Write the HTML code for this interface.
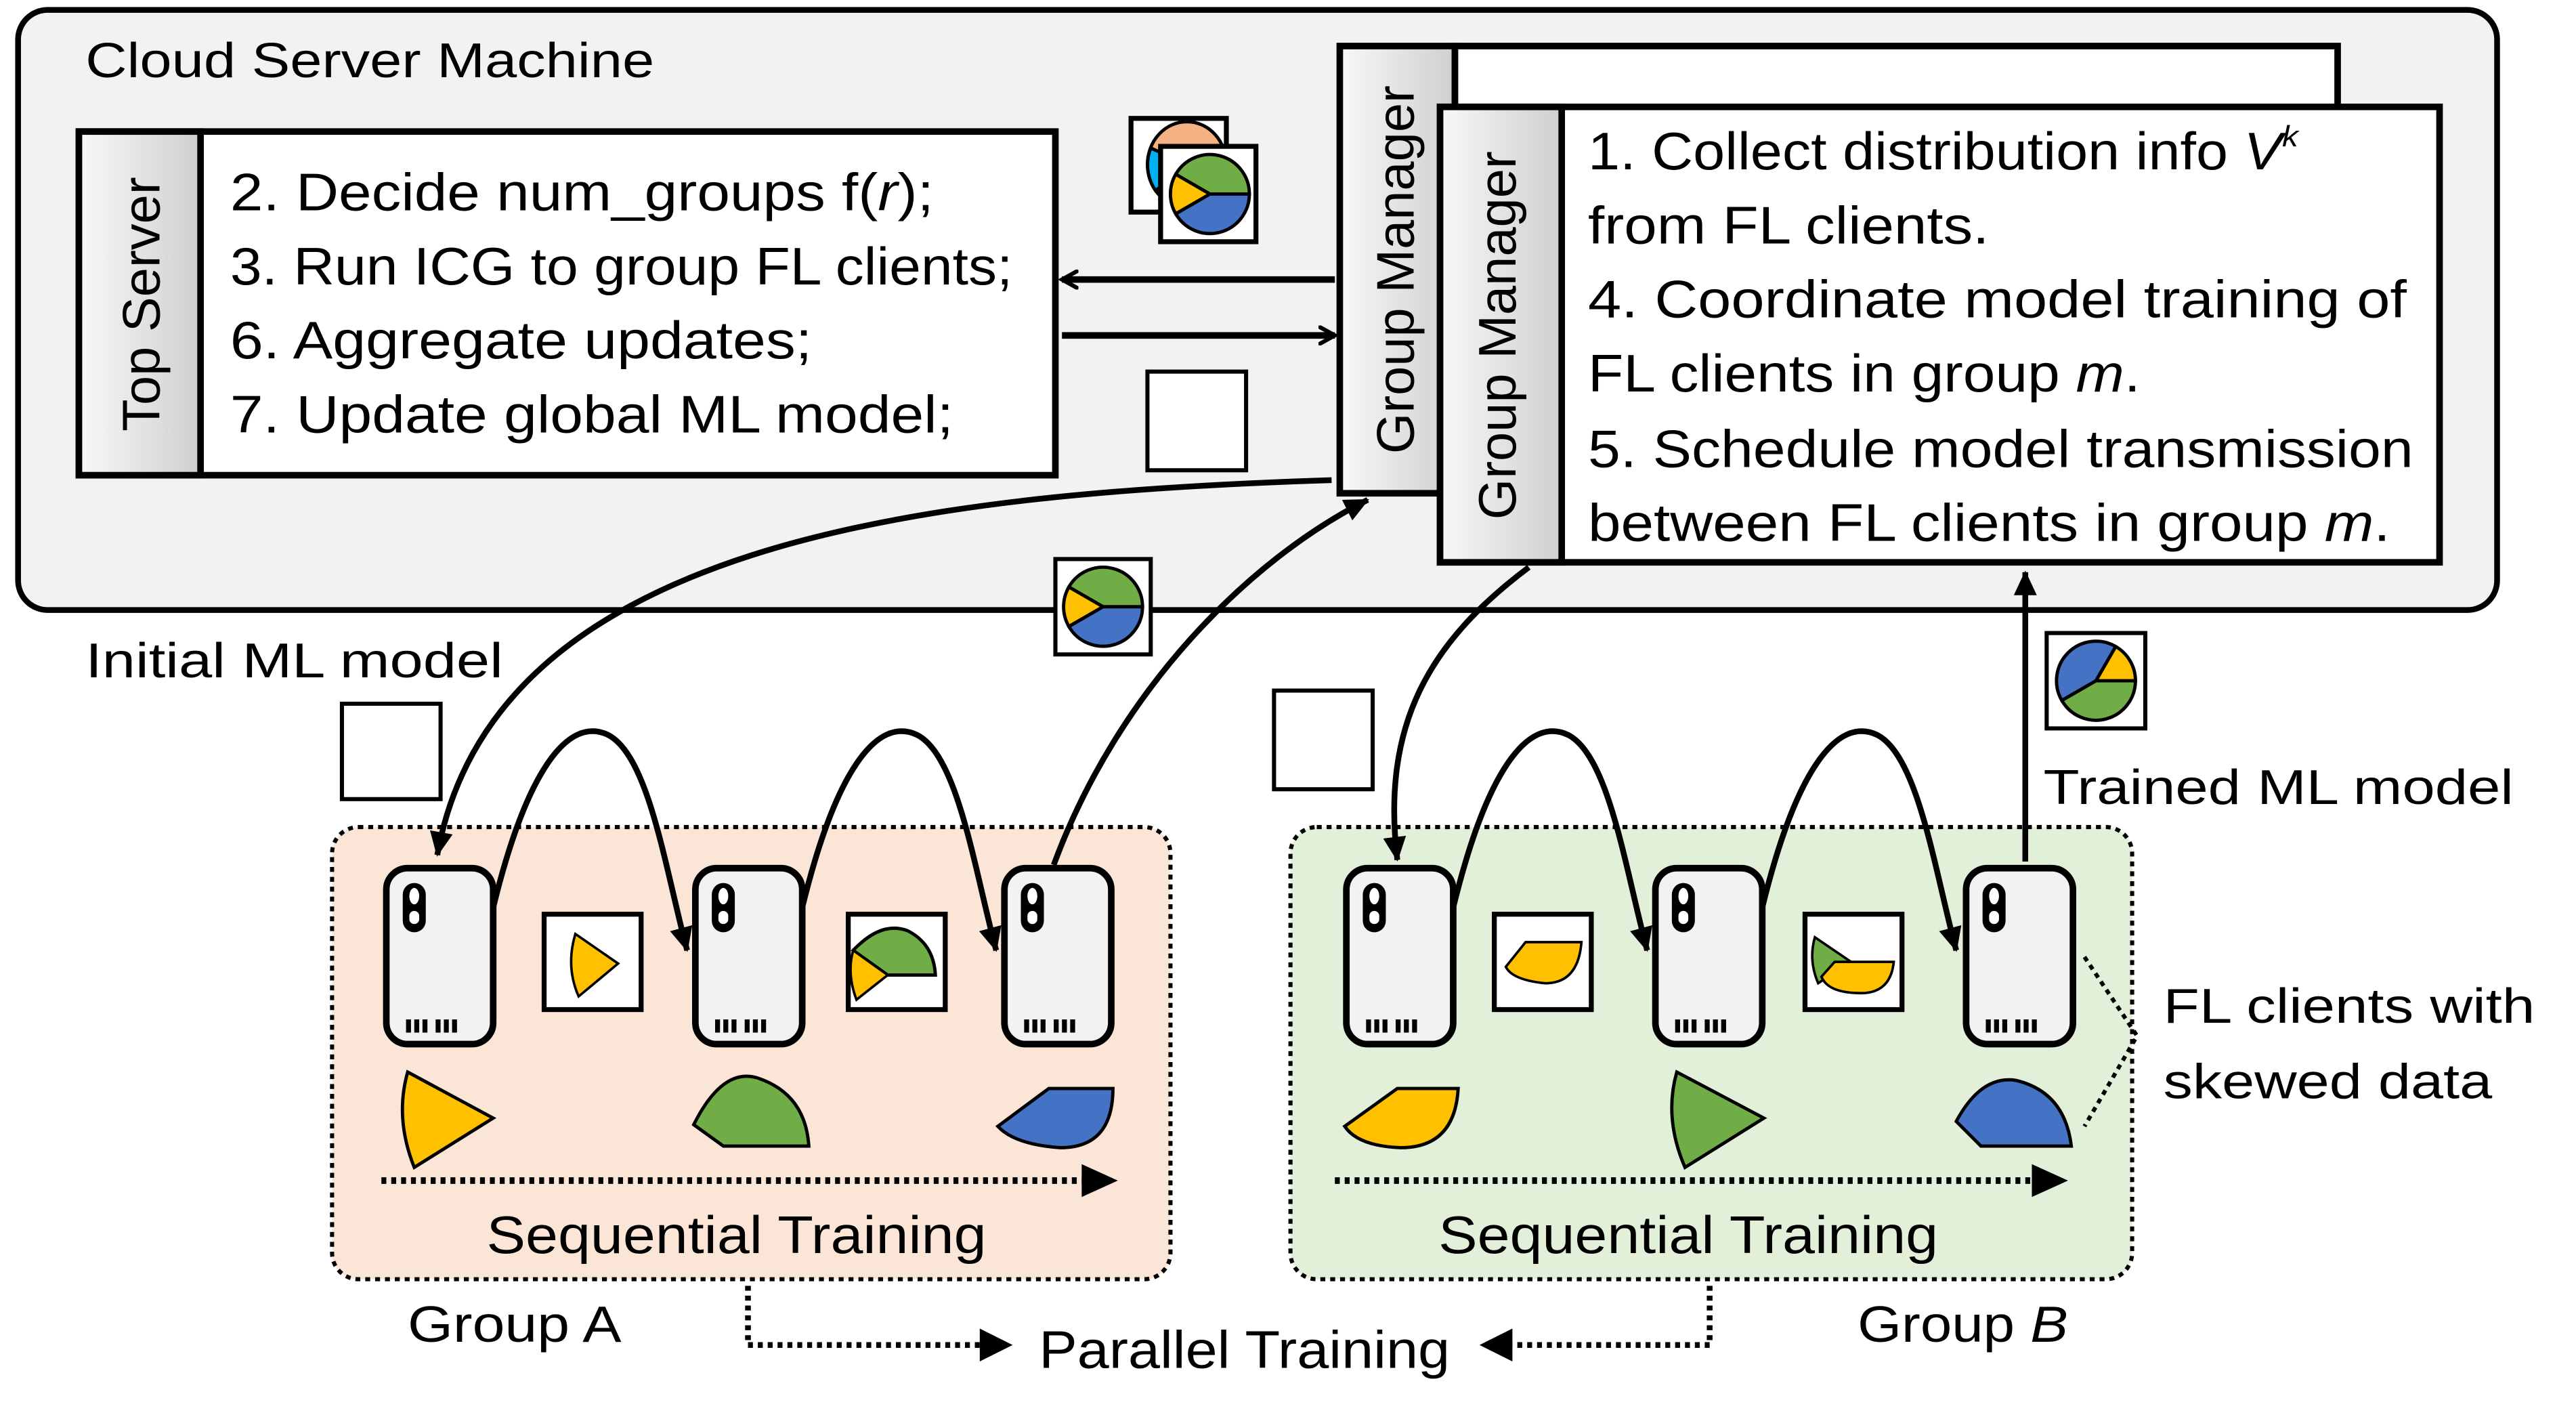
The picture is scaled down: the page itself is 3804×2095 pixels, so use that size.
<!DOCTYPE html>
<html><head><meta charset="utf-8"><style>html,body{margin:0;padding:0;background:#fff}svg{display:block}</style></head>
<body>
<svg width="3804" height="2095" viewBox="0 0 1567 863" xmlns="http://www.w3.org/2000/svg" font-family="'Liberation Sans', sans-serif">
<defs>
<linearGradient id="tabh" x1="0" y1="0" x2="1" y2="0"><stop offset="0" stop-color="#f8f8f8"/><stop offset="1" stop-color="#cfcfcf"/></linearGradient>
<marker id="open" markerWidth="12" markerHeight="12" refX="10" refY="6" orient="auto" markerUnits="userSpaceOnUse" viewBox="0 0 12 12"><path d="M1,1 L10,6 L1,11" fill="none" stroke="#000" stroke-width="2.5" stroke-linecap="round"/></marker>
<marker id="tri" markerWidth="16" markerHeight="16" refX="14" refY="8" orient="auto" markerUnits="userSpaceOnUse" viewBox="0 0 16 16"><path d="M0,1 L15,8 L0,15 Z" fill="#000"/></marker>
<g id="pie">
<path d="M0,0 L-20.8,-12 A24,24 0 0 1 24,0 Z" fill="#70ad47" stroke="#000" stroke-width="2"/>
<path d="M0,0 L24,0 A24,24 0 0 1 -20.8,12 Z" fill="#4472c4" stroke="#000" stroke-width="2"/>
<path d="M0,0 L-20.8,12 A24,24 0 0 1 -20.8,-12 Z" fill="#ffc000" stroke="#000" stroke-width="2"/>
</g>
<g id="phone">
<rect x="0" y="0" width="65" height="107" rx="13" fill="#f2f2f2" stroke="#000" stroke-width="4"/>
<rect x="10" y="9" width="14" height="30" rx="7" fill="#000"/>
<ellipse cx="17" cy="17" rx="3" ry="5" fill="#fff"/>
<rect x="14" y="26" width="6" height="8" rx="3" fill="#fff"/>
<g fill="#000"><rect x="12" y="92" width="3" height="8"/><rect x="17" y="92" width="3" height="8"/><rect x="22" y="92" width="3" height="8"/><rect x="30" y="92" width="3" height="8"/><rect x="35" y="92" width="3" height="8"/><rect x="40" y="92" width="3" height="8"/></g>
</g>
</defs>

<rect x="11" y="6" width="1508" height="365" rx="18" fill="#f2f2f2" stroke="#000" stroke-width="3.5"/>
<text x="52" y="47" font-size="30" textLength="346" lengthAdjust="spacingAndGlyphs">Cloud Server Machine</text>

<rect x="48" y="80" width="594" height="209" fill="#fff" stroke="#000" stroke-width="4"/>
<rect x="48" y="80" width="74" height="209" fill="url(#tabh)" stroke="#000" stroke-width="4"/>
<text transform="translate(97,185) rotate(-90)" font-size="32" text-anchor="middle">Top Server</text>
<g font-size="32">
<text x="140" y="128" textLength="428" lengthAdjust="spacingAndGlyphs">2. Decide num_groups f(<tspan font-style="italic">r</tspan>);</text>
<text x="140" y="173" textLength="476" lengthAdjust="spacingAndGlyphs">3. Run ICG to group FL clients;</text>
<text x="140" y="218" textLength="354" lengthAdjust="spacingAndGlyphs">6. Aggregate updates;</text>
<text x="140" y="263" textLength="440" lengthAdjust="spacingAndGlyphs">7. Update global ML model;</text>
</g>

<rect x="885" y="28" width="537" height="60" fill="#fff" stroke="#000" stroke-width="4"/>
<rect x="815" y="28" width="70" height="272" fill="url(#tabh)" stroke="#000" stroke-width="4"/>
<text transform="translate(860,164) rotate(-90)" font-size="32" text-anchor="middle">Group Manager</text>
<rect x="876" y="65" width="608" height="277" fill="#fff" stroke="#000" stroke-width="4"/>
<rect x="876" y="65" width="74" height="277" fill="url(#tabh)" stroke="#000" stroke-width="4"/>
<text transform="translate(922,204) rotate(-90)" font-size="32" text-anchor="middle">Group Manager</text>
<g font-size="32">
<text x="966" y="103" textLength="432" lengthAdjust="spacingAndGlyphs">1. Collect distribution info <tspan font-style="italic">V</tspan><tspan font-size="18" dy="-14" font-style="italic">k</tspan></text>
<text x="966" y="148" textLength="244" lengthAdjust="spacingAndGlyphs">from FL clients.</text>
<text x="966" y="193" textLength="498" lengthAdjust="spacingAndGlyphs">4. Coordinate model training of</text>
<text x="966" y="238" textLength="336" lengthAdjust="spacingAndGlyphs">FL clients in group <tspan font-style="italic">m</tspan>.</text>
<text x="966" y="284" textLength="502" lengthAdjust="spacingAndGlyphs">5. Schedule model transmission</text>
<text x="966" y="329" textLength="488" lengthAdjust="spacingAndGlyphs">between FL clients in group <tspan font-style="italic">m</tspan>.</text>
</g>

<line x1="812" y1="170" x2="646" y2="170" stroke="#000" stroke-width="4" marker-end="url(#open)"/>
<line x1="646" y1="204" x2="812" y2="204" stroke="#000" stroke-width="4" marker-end="url(#open)"/>

<rect x="688" y="72" width="58" height="57" fill="#fff" stroke="#000" stroke-width="3"/>
<ellipse cx="722" cy="100" rx="24" ry="26" fill="#f4b183" stroke="#000" stroke-width="2"/>
<path d="M722,100 L700,90 A24,26 0 0 0 703,116 Z" fill="#00b0f0" stroke="#000" stroke-width="2"/>
<path d="M722,100 L703,116 A24,26 0 0 0 715,125 Z" fill="#c00000" stroke="#000" stroke-width="2"/>
<rect x="706" y="89" width="58" height="58" fill="#fff" stroke="#000" stroke-width="3"/>
<use href="#pie" transform="translate(736,118)"/>

<rect x="698" y="226" width="60" height="60" fill="#fff" stroke="#000" stroke-width="2.5"/>

<rect x="642" y="340" width="58" height="58" fill="#fff" stroke="#000" stroke-width="2.5"/>
<use href="#pie" transform="translate(671,369)"/>

<text x="52" y="412" font-size="30" textLength="254" lengthAdjust="spacingAndGlyphs">Initial ML model</text>
<rect x="208" y="428" width="60" height="58" fill="#fff" stroke="#000" stroke-width="2.5"/>
<rect x="775" y="420" width="60" height="60" fill="#fff" stroke="#000" stroke-width="2.5"/>

<rect x="1245" y="385" width="60" height="58" fill="#fff" stroke="#000" stroke-width="2.5"/>
<use href="#pie" transform="translate(1275,414) rotate(150)"/>
<text x="1243" y="489" font-size="30" textLength="286" lengthAdjust="spacingAndGlyphs">Trained ML model</text>

<rect x="202" y="503" width="510" height="275" rx="16" fill="#fbe5d6" stroke="#000" stroke-width="2.5" stroke-dasharray="3,3"/>
<rect x="785" y="503" width="512" height="275" rx="16" fill="#e2f0d9" stroke="#000" stroke-width="2.5" stroke-dasharray="3,3"/>

<use href="#phone" transform="translate(235,528)"/>
<use href="#phone" transform="translate(423,528)"/>
<use href="#phone" transform="translate(611,528)"/>
<use href="#phone" transform="translate(819,528)"/>
<use href="#phone" transform="translate(1007,528)"/>
<use href="#phone" transform="translate(1196,528)"/>

<rect x="331" y="556" width="59" height="58" fill="#fff" stroke="#000" stroke-width="3"/>
<path d="M350,568 L376,586 L352,606 Q344,588 350,568 Z" fill="#ffc000" stroke="#000" stroke-width="1.5"/>
<rect x="516" y="556" width="59" height="58" fill="#fff" stroke="#000" stroke-width="3"/>
<path d="M519,578 Q536,560 552,566 Q568,574 569,593 L540,593 Z" fill="#70ad47" stroke="#000" stroke-width="2"/>
<path d="M519,578 L540,593 L521,608 Q515,592 519,578 Z" fill="#ffc000" stroke="#000" stroke-width="1.5"/>
<rect x="909" y="556" width="59" height="58" fill="#fff" stroke="#000" stroke-width="3"/>
<path d="M928,573 L962,573 Q960,598 940,598 Q920,596 916,588 Z" fill="#ffc000" stroke="#000" stroke-width="1.5"/>
<rect x="1098" y="556" width="59" height="58" fill="#fff" stroke="#000" stroke-width="3"/>
<path d="M1104,570 L1126,585 L1106,598 Q1100,584 1104,570 Z" fill="#70ad47" stroke="#000" stroke-width="1.5"/>
<path d="M1116,585 L1152,585 Q1150,604 1132,604 Q1112,604 1108,594 Z" fill="#ffc000" stroke="#000" stroke-width="1.5"/>

<g stroke="#000" stroke-width="2">
<path d="M248,652 L300,680 L252,710 Q240,680 248,652 Z" fill="#ffc000"/>
<path d="M422,684 Q440,648 462,656 Q490,666 492,697 L440,697 Z" fill="#70ad47"/>
<path d="M638,662 L677,662 Q677,698 645,698 Q617,696 607,685 Z" fill="#4472c4"/>
<path d="M850,662 L887,662 Q885,698 852,698 Q826,697 818,685 Z" fill="#ffc000"/>
<path d="M1020,652 L1073,680 L1025,710 Q1012,680 1020,652 Z" fill="#70ad47"/>
<path d="M1190,682 Q1205,654 1226,657 Q1256,664 1260,697 L1205,697 Z" fill="#4472c4"/>
</g>

<line x1="232" y1="718" x2="662" y2="718" stroke="#000" stroke-width="4" stroke-dasharray="3,3"/>
<path d="M658,708 L680,718 L658,728 Z"/>
<line x1="812" y1="718" x2="1240" y2="718" stroke="#000" stroke-width="4" stroke-dasharray="3,3"/>
<path d="M1236,708 L1258,718 L1236,728 Z"/>
<text x="448" y="762" font-size="32" text-anchor="middle" textLength="304" lengthAdjust="spacingAndGlyphs">Sequential Training</text>
<text x="1027" y="762" font-size="32" text-anchor="middle" textLength="304" lengthAdjust="spacingAndGlyphs">Sequential Training</text>

<text x="248" y="816" font-size="31" textLength="130" lengthAdjust="spacingAndGlyphs">Group A</text>
<text x="1130" y="816" font-size="31" textLength="128" lengthAdjust="spacingAndGlyphs">Group <tspan font-style="italic">B</tspan></text>
<text x="632" y="832" font-size="32" textLength="250" lengthAdjust="spacingAndGlyphs">Parallel Training</text>
<polyline points="455,782 455,818 598,818" fill="none" stroke="#000" stroke-width="3.5" stroke-dasharray="3,3"/>
<path d="M596,808 L616,818 L596,828 Z"/>
<polyline points="1040,782 1040,818 918,818" fill="none" stroke="#000" stroke-width="3.5" stroke-dasharray="3,3"/>
<path d="M920,808 L900,818 L920,828 Z"/>

<polyline points="1268,582 1300,630 1268,685" fill="none" stroke="#000" stroke-width="2.5" stroke-dasharray="3,3"/>
<text x="1316" y="622" font-size="30" textLength="226" lengthAdjust="spacingAndGlyphs">FL clients with</text>
<text x="1316" y="668" font-size="30" textLength="200" lengthAdjust="spacingAndGlyphs">skewed data</text>

<g fill="none" stroke="#000" stroke-width="3.5">
<path d="M810,292 C560,300 300,330 266,520" marker-end="url(#tri)"/>
<path d="M300,552 C320,470 345,435 370,447 C395,460 405,530 418,578" marker-end="url(#tri)"/>
<path d="M488,552 C508,470 533,435 558,447 C583,460 593,530 606,578" marker-end="url(#tri)"/>
<path d="M641,526 C680,420 760,340 832,304" marker-end="url(#tri)"/>
<path d="M930,345 C870,390 840,440 850,523" marker-end="url(#tri)"/>
<path d="M884,552 C904,470 929,435 954,447 C979,460 989,530 1002,578" marker-end="url(#tri)"/>
<path d="M1072,552 C1092,470 1117,435 1142,447 C1167,460 1177,530 1190,578" marker-end="url(#tri)"/>
<path d="M1232,524 L1232,348" marker-end="url(#tri)"/>
</g>
</svg>
</body></html>
